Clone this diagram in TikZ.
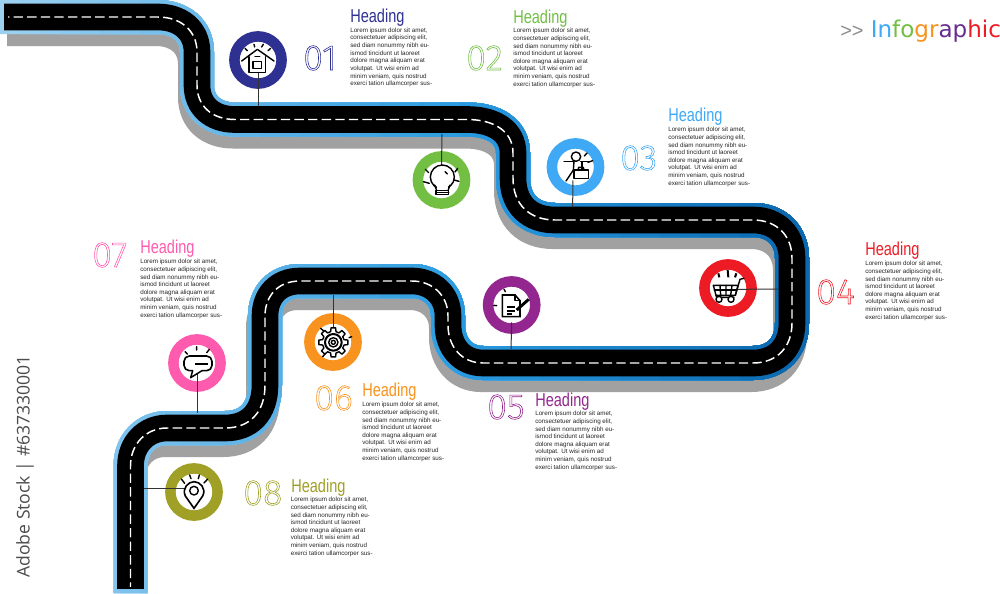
\documentclass[tikz,border=0pt]{standalone}
\usepackage{fontspec}
\setmainfont{Liberation Sans}
\newfontfamily\headfont[FakeStretch=0.78]{Liberation Sans}
\newfontfamily\numfont{Fira Sans Light}
\newfontfamily\titlefont{DejaVu Sans}
\newfontfamily\sidefont{Open Sans}
\definecolor{cA}{HTML}{2E3192}
\definecolor{cB}{HTML}{72BF44}
\definecolor{cC}{HTML}{3FA9F5}
\definecolor{cD}{HTML}{ED1C24}
\definecolor{cE}{HTML}{93278F}
\definecolor{cF}{HTML}{F7931E}
\definecolor{cG}{HTML}{FF5BAE}
\definecolor{cH}{HTML}{A0A027}
\definecolor{cT}{HTML}{662D91}
\definecolor{bandL}{HTML}{9BD0F0}
\definecolor{bandM}{HTML}{2A9BE0}
\definecolor{bandR}{HTML}{0A66AD}
\newcommand{\roadpath}{(0,17) -- (158,17) .. controls (180,17) and (197,30) .. (197,52) -- (197,85) .. controls (197,106) and (212,119.5) .. (235,119.5) -- (467,119.5) .. controls (495,119.5) and (513,132) .. (513,153) -- (513,178) .. controls (513,205) and (530,220) .. (555,220) -- (753,220) .. controls (777,220) and (792,236) .. (792,258) -- (792,323) .. controls (792,347) and (777,363) .. (753,363) -- (483,363) .. controls (462,363) and (448,347) .. (448,325) -- (448,316) .. controls (448,295) and (432,281) .. (412,281) -- (300,281) .. controls (278,281) and (265,296) .. (265,316) -- (265,385) .. controls (265,412) and (250,428) .. (225,428) -- (167,428) .. controls (146,428) and (130.5,444) .. (130.5,466) -- (130.5,593)}
\newcommand{\lorem}{Lorem ipsum dolor sit amet,\\consectetuer adipiscing elit,\\sed diam nonummy nibh eu-\\ismod tincidunt ut laoreet\\dolore magna aliquam erat\\volutpat. Ut wisi enim ad\\minim veniam, quis nostrud\\exerci tation ullamcorper sus-}
\newcommand{\outl}[1]{\special{pdf:code q 1 Tr 0.45 w}#1\special{pdf:code Q}}
\tikzset{
  ring/.style={circle,draw=#1,fill=white,line width=7.9pt,minimum size=35.4pt,inner sep=0pt},
  headtext/.style={anchor=base west,inner sep=0pt,text=#1,font=\headfont\fontsize{14}{15}\selectfont},
  bodytext/.style={anchor=north west,inner sep=0pt,align=left,text=black!85,font=\fontsize{4.7}{5.72}\selectfont},
  numtext/.style={anchor=base west,inner sep=0pt,text=#1,font=\numfont\fontsize{27}{28}\selectfont},
  link/.style={draw=black!80,line width=.75pt},
  ico/.style={draw=black,line width=1.05pt,line cap=round,line join=round},
  icot/.style={draw=black,line width=1.5pt,line cap=butt}
}
\begin{document}
\begin{tikzpicture}[x=.75pt,y=-.75pt]
\useasboundingbox (0,0) rectangle (1000,593);
\fill[white] (0,0) rectangle (1000,593);
% shadow
\begin{scope}
\clip (7,0) -- (1000,0) -- (1000,593) -- (147,593) -- (147,300) -- (7,300) -- cycle;
\draw[shift={(-2,12)},draw=black!37,line width=25.5pt] \roadpath;
\end{scope}
% coloured band
\foreach \i in {0,...,39}{
  \pgfmathsetmacro{\xx}{\i*20}
  \pgfmathsetmacro{\pL}{max(0,min(100,100-\xx/4.5))}
  \pgfmathsetmacro{\pR}{max(0,min(100,100-(\xx-450)/3.5))}
  \ifdim\xx pt<450pt \colorlet{bandnow}{bandL!\pL!bandM}\else\colorlet{bandnow}{bandM!\pR!bandR}\fi
  \begin{scope}
    \clip (\xx,0) rectangle (1000,593);
    \draw[draw=bandnow,line width=25.5pt] \roadpath;
  \end{scope}
}
% asphalt and lane marking
\begin{scope}
\clip (4,0) rectangle (1000,588);
\draw[draw=black,line width=20pt] \roadpath;
\end{scope}
\begin{scope}
\clip (8,0) rectangle (1000,586);
\draw[draw=white,line width=1.1pt,dash pattern=on 7pt off 3.2pt,dash phase=0pt] \roadpath;
\end{scope}
% circles
\node[ring=cA] (c1) at (258,60) {};
\node[ring=cB] (c2) at (441.5,180) {};
\node[ring=cC] (c3) at (575.5,167) {};
\node[ring=cD] (c4) at (728,288) {};
\node[ring=cE] (c5) at (511.7,305) {};
\node[ring=cF] (c6) at (333,342) {};
\node[ring=cG] (c7) at (197,363) {};
\node[ring=cH] (c8) at (194,492) {};
% connector ends
\coordinate (r1) at (258,106);
\coordinate (r2) at (442,134);
\coordinate (r3) at (572.7,207);
\coordinate (r4) at (778,289);
\coordinate (r5) at (511,349);
\coordinate (r6) at (333,295);
\coordinate (r7) at (197,413);
\coordinate (r8) at (144,488);
\draw[link] ([yshift=-9pt]c1.center) -- (r1);
\draw[link] ([yshift=10pt]c2.center) -- (r2);
\draw[link] ([xshift=-2pt,yshift=-10pt]c3.center) -- (r3);
\draw[link] ([xshift=7pt,yshift=-1pt]c4.center) -- (r4);
\draw[link] ([yshift=-13pt]c5.center) -- (r5);
\draw[link] ([yshift=9pt]c6.center) -- (r6);
\draw[link] ([yshift=-8pt]c7.center) -- (r7);
\draw[link] ([xshift=-7pt,yshift=3pt]c8.center) -- (r8);
% icon 1 house
\begin{scope}[x=.25pt,y=-.25pt,shift={(0,0)}]
\draw[ico] (725,183) -- (772,148) -- (822,183);
\draw[ico] (747,170) -- (747,218) -- (797,218) -- (797,170);
\draw[ico] (759,184) rectangle (785,205);
\draw[ico] (765,169) -- (779,169);
\draw[ico] (735,145) -- (742,152) (762,133) -- (764,141) (790,133) -- (785,141) (812,145) -- (804,152);
\end{scope}
% icon 2 bulb
\begin{scope}[shift={(340,0)},x=.25pt,y=-.25pt]
\draw[ico,fill=white] (307,531) circle[radius=36];
\fill[white] (290,555) rectangle (324,572);
\draw[ico] (284,555) -- (290,572) (330,555) -- (324,572);
\draw[ico] (288,572) rectangle (326,583);
\draw[ico] (288,577) -- (326,577);
\draw[ico] (256,508) -- (266,518) (250,545) -- (268,550) (353,505) -- (345,516) (357,544) -- (342,540) (315,515) -- (322,522);
\end{scope}
% icon 3 person with board
\begin{scope}[shift={(340,0)},x=.25pt,y=-.25pt]
\draw[ico] (708,470) circle[radius=14];
\draw[ico] (672,484) -- (702,484) (722,484) -- (745,484);
\draw[ico] (702,484) -- (700,510) -- (678,543);
\draw[ico] (726,486) -- (726,510);
\draw[ico] (702,510) rectangle (745,535);
\draw[ico] (714,510) -- (716,502) -- (730,502) -- (732,510);
\draw[ico] (733,468) -- (741,459) (744,487) -- (758,482);
\end{scope}
% icon 4 cart
\begin{scope}[shift={(660,0)},x=.25pt,y=-.25pt]
\draw[ico] (160,856) -- (234,856) -- (226,886) -- (168,886) -- cycle;
\draw[ico] (163,870) -- (230,870);
\draw[ico] (180,856) -- (182,886) (198,856) -- (198,886) (216,856) -- (212,886);
\draw[ico] (226,886) -- (240,838) -- (252,835);
\draw[ico] (168,886) -- (170,892) -- (222,892);
\draw[ico,fill=white] (177,898) circle[radius=9] (213,898) circle[radius=9];
\draw[icot] (175,820) -- (178,832) (203,810) -- (205,832) (229,820) -- (225,832);
\end{scope}
% icon 5 document
\begin{scope}[shift={(400,260)},x=.25pt,y=-.25pt]
\draw[draw=black,line width=1.2pt,line join=miter] (345,105) -- (307,105) -- (307,170) -- (360,170) -- (360,122) -- cycle;
\draw[ico] (345,105) -- (345,122) -- (360,122);
\draw[icot] (320,140) -- (346,140) (320,152) -- (346,152) (320,163) -- (335,163);
\draw[draw=black,line width=2.2pt] (350,150) -- (386,118);
\draw[ico] (312,88) -- (316,95) (281,136) -- (290,137);
\end{scope}
% icon 6 gear
\begin{scope}[shift={(0,230)},x=.25pt,y=-.25pt]
\draw[ico,fill=white] (1000,337)+(-14:33) \foreach \a in {0,45,...,315}{ -- +(\a-14:33) -- +(\a-9:44) -- +(\a+9:44) -- +(\a+14:33) } -- cycle;
\draw[draw=black,line width=1.5pt] (1000,337) circle[radius=25];
\draw[ico] (1000,337) circle[radius=14];
\draw[ico] (1000,337) circle[radius=6];
\draw[ico] (962,295) -- (970,302) (1055,320) -- (1047,323) (968,380) -- (975,372);
\end{scope}
% icon 7 speech bubble
\begin{scope}[shift={(0,230)},x=.25pt,y=-.25pt]
\draw[draw=black,line width=1.2pt,line join=round,rounded corners=4pt] (552,378) rectangle (636,422);
\fill[white] (578,418) rectangle (606,426);
\draw[ico,line width=1.1pt] (578,422) -- (572,443) -- (606,422);
\draw[icot] (585,403) -- (625,403);
\draw[ico] (555,365) -- (562,372) (590,350) -- (590,360) (628,358) -- (620,368);
\end{scope}
% icon 8 pin
\begin{scope}[shift={(0,230)},x=.25pt,y=-.25pt]
\draw[draw=black,line width=1.2pt,line join=miter] (582,835) -- (556,798) .. controls (545,775) and (565,755) .. (582,755) .. controls (600,755) and (620,775) .. (608,798) -- cycle;
\draw[ico] (582,782) circle[radius=13];
\draw[ico] (544,747) -- (554,760) (569,735) -- (573,746) (598,735) -- (595,746) (623,747) -- (612,759);
\end{scope}
% numbers
\node[numtext=cA] (n1) at (303,70) {\outl{01}};
\node[numtext=cB] (n2) at (466,70) {\outl{02}};
\node[numtext=cC] (n3) at (620,170) {\outl{03}};
\node[numtext=cD] (n4) at (816,304) {\outl{04}};
\node[numtext=cE] (n5) at (487,419) {\outl{05}};
\node[numtext=cF] (n6) at (314,410) {\outl{06}};
\node[numtext=cG] (n7) at (92,267) {\outl{07}};
\node[numtext=cH] (n8) at (243,505) {\outl{08}};
% headings and text
\node[headtext=cA] (h1) at (350,22) {Heading};
\node[bodytext] (b1) at (350,27.5) {\lorem};
\node[headtext=cB] (h2) at (513,23) {Heading};
\node[bodytext] (b2) at (513,28) {\lorem};
\node[headtext=cC] (h3) at (668,121) {Heading};
\node[bodytext] (b3) at (668,127) {\lorem};
\node[headtext=cD] (h4) at (865,255) {Heading};
\node[bodytext] (b4) at (865,261) {\lorem};
\node[headtext=cE] (h5) at (535,406) {Heading};
\node[bodytext] (b5) at (535,411) {\lorem};
\node[headtext=cF] (h6) at (362,396) {Heading};
\node[bodytext] (b6) at (362,402) {\lorem};
\node[headtext=cG] (h7) at (140,253) {Heading};
\node[bodytext] (b7) at (140,259) {\lorem};
\node[headtext=cH] (h8) at (291,492) {Heading};
\node[bodytext] (b8) at (290.5,497) {\lorem};
% title
\node[anchor=base west,inner sep=0pt,text=black!45,font=\fontsize{15}{18}\selectfont] (t1) at (840,37) {>{}>};
\node[anchor=base west,inner sep=0pt,font=\titlefont\fontsize{17.3}{18}\selectfont] (t2) at (870.5,37) {\textcolor{cC}{In}\textcolor{cB}{fo}\textcolor{cF}{gr}\textcolor{cT}{ap}\textcolor{cD}{hic}};
% side label
\node[anchor=base west,rotate=90,inner sep=0pt,text=black!70,font=\sidefont\fontsize{13.2}{14}\selectfont] (s1) at (29.5,578) {Adobe Stock | \#637330001};
\end{tikzpicture}
\end{document}
